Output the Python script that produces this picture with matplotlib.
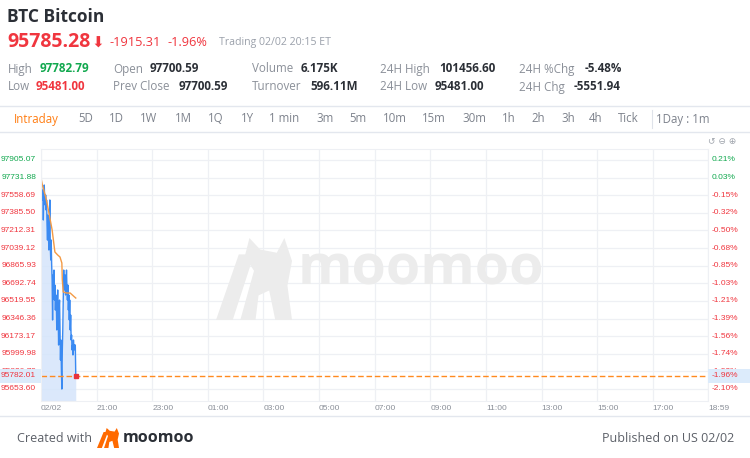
import matplotlib
matplotlib.use("Agg")
import matplotlib.pyplot as plt
from matplotlib.patches import Polygon, Rectangle
from matplotlib.lines import Line2D
import matplotlib.transforms as mtransforms

# dati (minuti dalle 19:00 del 02/02)
prev_close = 97700.59
last_price = 95782.01

minuti = list(range(76))
prezzo = [97728, 97659, 97561, 97512, 97610,
          97315, 97561, 97659, 97512,
          97463, 97561, 97413, 97512,
          97266, 97118, 97364, 97168, 97020,
          97217, 97512, 97069, 96922, 97118,
          96873, 96725, 96332, 96774, 96627,
          96823, 96528, 96676, 96430, 96578,
          96528, 96234, 96479, 96627, 96381,
          96086, 96430, 96528, 96234, 95939,
          96135, 95840, 95653, 96037, 96234,
          96528, 96823, 96627, 96725, 96774,
          96578, 96676, 96823, 96627, 96528,
          96676, 96430, 96578, 96332, 96528,
          96234, 96381, 96135, 96184, 96037,
          96086, 95988, 96135, 96056, 96086,
          96037, 96086, 95782.01]

minuti_media = [0, 3, 6, 10, 13, 18, 24, 30, 36, 41, 45, 46, 48, 55, 63, 70, 75]
prezzo_medio = [97728, 97659, 97610, 97541, 97482, 97364, 97217, 97000, 96971,
                96951, 96892, 96725, 96607, 96597, 96597, 96568, 96548]

y_ticks = [97905.07, 97731.88, 97558.69, 97385.50, 97212.31, 97039.12, 96865.93,
           96692.74, 96519.55, 96346.36, 96173.17, 95999.98, 95826.79, 95653.60]
pct_labels = ["0.21%", "0.03%", "-0.15%", "-0.32%", "-0.50%", "-0.68%", "-0.85%",
              "-1.03%", "-1.21%", "-1.39%", "-1.56%", "-1.74%", "-1.92%", "-2.10%"]
x_ticks = [0, 120, 240, 360, 480, 600, 720, 840, 960, 1080, 1200, 1320, 1439]
x_labels = ["02/02", "21:00", "23:00", "01:00", "03:00", "05:00", "07:00",
            "09:00", "11:00", "13:00", "15:00", "17:00", "18:59"]

tabs = ["Intraday", "5D", "1D", "1W", "1M", "1Q", "1Y", "1 min", "3m", "5m", "10m",
        "15m", "30m", "1h", "2h", "3h", "4h", "Tick"]
tabs_x = [14, 78, 109, 140, 175, 208, 241, 269, 316, 349, 383, 422, 462, 502, 531, 561, 589, 618]

RED = "#f0363f"
GREEN = "#11a84e"
GRAY = "#8b9099"
DARK = "#2b2f36"
ORANGE = "#ff7d12"

plt.rcParams["font.family"] = ["Open Sans", "DejaVu Sans"]

W, H = 750, 458
fig = plt.figure(figsize=(7.5, 4.58), dpi=100)


def px(x, y):
    return x / W, 1 - y / H


def t(x, y, s, **kw):
    kw.setdefault("va", "center")
    fig.text(*px(x, y), s, **kw)


# intestazione
t(7, 17, "BTC Bitcoin", fontsize=12.5, fontweight="bold", color=DARK)
t(7, 42, "95785.28", fontsize=14, fontweight="bold", color=RED)
t(91, 43, "\u2b07", fontsize=11, color=RED, family=["DejaVu Sans"])
t(109, 43, "-1915.31", fontsize=9.2, color=RED)
t(167, 43, "-1.96%", fontsize=9.2, color=RED)
t(219, 43, "Trading 02/02 20:15 ET", fontsize=7.6, color="#9aa0aa")

fs = 8.4
righe = [
    (8, 69, "High", GRAY, "normal"), (40, 69, "97782.79", GREEN, "bold"),
    (113, 69, "Open", GRAY, "normal"), (150, 69, "97700.59", DARK, "bold"),
    (252, 69, "Volume", GRAY, "normal"), (301, 69, "6.175K", DARK, "bold"),
    (380, 69, "24H High", GRAY, "normal"), (439, 69, "101456.60", DARK, "bold"),
    (519, 69, "24H %Chg", GRAY, "normal"), (585, 69, "-5.48%", DARK, "bold"),
    (8, 87, "Low", GRAY, "normal"), (36, 87, "95481.00", RED, "bold"),
    (113, 87, "Prev Close", GRAY, "normal"), (179, 87, "97700.59", DARK, "bold"),
    (252, 87, "Turnover", GRAY, "normal"), (310, 87, "596.11M", DARK, "bold"),
    (380, 87, "24H Low", GRAY, "normal"), (435, 87, "95481.00", DARK, "bold"),
    (519, 87, "24H Chg", GRAY, "normal"), (574, 87, "-5551.94", DARK, "bold"),
]
for x, y, s, c, w in righe:
    t(x, y, s, fontsize=fs, color=c, fontweight=w)

# barra dei tab
for yy in (106, 132):
    fig.add_artist(Line2D([0, 1], [1 - yy / H] * 2, color="#e3e7ee", lw=1))
for s, x in zip(tabs, tabs_x):
    t(x, 119, s, fontsize=8.3, color=ORANGE if s == "Intraday" else "#7d828c")
fig.add_artist(Line2D([652 / W] * 2, [1 - 110 / H, 1 - 128 / H], color="#dfe3ea", lw=0.8))
t(656, 119, "1Day : 1m", fontsize=8.3, color="#7d828c")
t(708, 141, "\u21ba \u2296 \u2295", fontsize=6.5, color="#a0a5ad", family=["DejaVu Sans"])

# grafico
ax = fig.add_axes([41 / W, 1 - 401 / H, 667 / W, 252 / H])
ax.set_xlim(0, 1439)
ax.set_ylim(95535.6, 98013.0)
for s in ax.spines.values():
    s.set_color("#eef0f4")
ax.set_xticks(x_ticks)
ax.set_yticks(y_ticks)
ax.grid(True, color="#eef0f4", lw=0.9)
ax.tick_params(length=0, labelleft=False, labelbottom=False)
ax.set_axisbelow(True)

ax.fill_between(minuti, prezzo, 95535.6, color="#d5e5fb", alpha=0.85, lw=0)
ax.plot(minuti, prezzo, color="#3a8af2", lw=1.0)
ax.plot(minuti_media, prezzo_medio, color="#f39a45", lw=1.0)
ax.axhline(last_price, color="#ff8a1f", lw=1.0, ls=(0, (4, 2)))
ax.plot([minuti[-1]], [last_price], marker="s", ms=3.5, color="#e8323c")

# etichette assi
tick_font = ["Liberation Sans", "DejaVu Sans"]
tfs = 6.0
trL = mtransforms.blended_transform_factory(fig.transFigure, ax.transData)
for v, p in zip(y_ticks, pct_labels):
    col = GREEN if v > prev_close else RED
    fig.text(36 / W, v, f"{v:.2f}", transform=trL, ha="right", va="center",
             fontsize=tfs, color=col, family=tick_font)
    fig.text(712 / W, v, p, transform=trL, ha="left", va="center",
             fontsize=tfs, color=col, family=tick_font)

box_h = 14 * (98013.0 - 95535.6) / 252
fig.add_artist(Rectangle((0, last_price - box_h / 2), 41 / W, box_h, transform=trL,
                         color="#dcebfb", lw=0, zorder=5))
fig.add_artist(Rectangle((708 / W, last_price - box_h / 2), 42 / W, box_h, transform=trL,
                         color="#dcebfb", lw=0, zorder=5))
fig.text(36 / W, last_price, f"{last_price:.2f}", transform=trL, ha="right", va="center",
         fontsize=tfs, color=RED, family=tick_font, zorder=6)
fig.text(712 / W, last_price, "-1.96%", transform=trL, ha="left", va="center",
         fontsize=tfs, color=RED, family=tick_font, zorder=6)

trB = mtransforms.blended_transform_factory(ax.transData, fig.transFigure)
for xv, lab in zip(x_ticks, x_labels):
    fig.text(xv, 1 - 408 / H, lab, transform=trB, ha="left", va="center",
             fontsize=6.0, color="#8a8f98", family=tick_font)


# logo moomoo (forma approssimata)
def logo(x0, y0, w, h, color, z=0):
    tr = lambda pts: [px(x0 + a * w, y0 + (1 - b) * h) for a, b in pts]
    gamba = [(0.0, 0.0), (0.22, 0.0), (0.5, 0.8), (0.3, 0.8)]
    testa = [(0.32, 0.0), (0.52, 0.0), (0.56, 0.3), (0.7, 0.36), (0.78, 0.0), (1.0, 0.0),
             (0.94, 0.42), (1.0, 0.72), (0.9, 1.0), (0.8, 0.82), (0.58, 0.86),
             (0.44, 1.0), (0.38, 0.78), (0.5, 0.6)]
    for p in (gamba, testa):
        fig.add_artist(Polygon(tr(p), closed=True, color=color, lw=0, zorder=z))


logo(216, 238, 76, 82, "#ececec", z=0.5)
t(298, 270, "moomoo", fontsize=40, fontweight="bold", color="#ececec", zorder=0.5)

# piè di pagina
fig.add_artist(Line2D([0, 1], [1 - 416 / H] * 2, color="#e3e7ee", lw=1))
t(17, 438, "Created with", fontsize=9, color="#5c6068")
logo(97, 428, 22, 20, "#ff6a00")
t(123, 438, "moomoo", fontsize=11.5, fontweight="bold", color=DARK)
t(734, 438, "Published on US 02/02", fontsize=9, color="#5c6068", ha="right")

fig.savefig("out.png", dpi=100)
